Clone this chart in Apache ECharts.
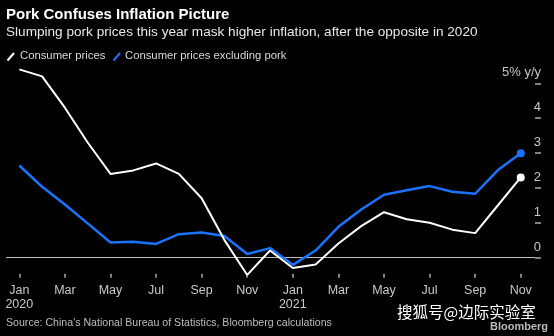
<!DOCTYPE html>
<html>
<head>
<meta charset="utf-8">
<script src="https://cdn.jsdelivr.net/npm/echarts@6/dist/echarts.min.js"></script>
<style>
html,body{margin:0;padding:0;background:#000;}
#c{width:554px;height:336px;}
</style>
</head>
<body>
<div id="c"></div>
<script>
// Months Jan 2020 .. Nov 2021
const months = ['Jan 2020','Feb 2020','Mar 2020','Apr 2020','May 2020','Jun 2020','Jul 2020','Aug 2020','Sep 2020','Oct 2020','Nov 2020','Dec 2020',
  'Jan 2021','Feb 2021','Mar 2021','Apr 2021','May 2021','Jun 2021','Jul 2021','Aug 2021','Sep 2021','Oct 2021','Nov 2021'];
const cpi = [5.4,5.2,4.3,3.3,2.4,2.5,2.7,2.4,1.7,0.5,-0.5,0.2,-0.3,-0.2,0.4,0.9,1.3,1.1,1.0,0.8,0.7,1.5,2.3];
const cpiExPork = [2.64,2.03,1.52,0.98,0.43,0.45,0.39,0.67,0.72,0.62,0.1,0.27,-0.21,0.2,0.88,1.38,1.8,1.93,2.05,1.89,1.83,2.51,2.99];
const xTickIdx = [0,2,4,6,8,10,12,14,16,18,20,22];
const xTickLabels = ['Jan\n2020','Mar','May','Jul','Sep','Nov','Jan\n2021','Mar','May','Jul','Sep','Nov'];
const yTicks = [0,1,2,3,4,5];
const yTickLabels = ['0','1','2','3','4','5% y/y'];

const FONT = 'Liberation Sans';

function toData(arr){
  return arr.map((v,i)=> i===arr.length-1 ? {value:[i,v], symbol:'circle', symbolSize:8} : {value:[i,v], symbol:'none'});
}

const chart = echarts.init(document.getElementById('c'), null, {renderer:'canvas'});
chart.setOption({
  backgroundColor:'#000',
  animation:false,
  grid:{left:6, right:19, top:48.46, height:243.9},
  xAxis:{
    type:'value', min:-0.584, max:22.625,
    position:'bottom', offset:-18.5,
    axisLine:{show:false, onZero:false},
    splitLine:{show:false},
    axisTick:{show:true, length:4, lineStyle:{color:'#aaa', width:1.5}, customValues:xTickIdx},
    axisLabel:{
      customValues:xTickIdx, margin:10, color:'#c8c8c8', fontFamily:FONT, fontSize:12.5, lineHeight:14,
      formatter:(v)=>{const i=xTickIdx.indexOf(Math.round(v)); return i>=0?xTickLabels[i]:'';}
    }
  },
  yAxis:{
    type:'value', min:-1, max:6, interval:1, position:'right',
    axisLine:{show:false, onZero:false},
    splitLine:{show:false},
    axisTick:{show:true, inside:false, length:6, lineStyle:{color:'#aaa', width:1.5}, customValues:yTicks},
    axisLabel:{
      customValues:yTicks, inside:true, margin:-6, color:'#c8c8c8', fontFamily:FONT, fontSize:13,
      verticalAlign:'bottom', padding:[0,0,4,0],
      formatter:(v)=>{const i=yTicks.indexOf(Math.round(v)); return i>=0?yTickLabels[i]:'';}
    }
  },
  series:[
    {
      name:'Consumer prices excluding pork', type:'line', data:toData(cpiExPork),
      lineStyle:{color:'#1a73ff', width:2.5}, itemStyle:{color:'#1a73ff'},
      showSymbol:true, z:3,
      markLine:{silent:true, symbol:'none', label:{show:false}, lineStyle:{color:'#bdbdbd', width:1.2, type:'solid'}, data:[{yAxis:0}], z:1}
    },
    {
      name:'Consumer prices', type:'line', data:toData(cpi),
      lineStyle:{color:'#ffffff', width:2}, itemStyle:{color:'#ffffff'},
      showSymbol:true, z:4
    }
  ],
  graphic:[
    {type:'text', left:6, top:7, style:{text:'Pork Confuses Inflation Picture', fill:'#fff', font:'bold 15px "'+FONT+'"'}},
    {type:'text', left:6, top:25, style:{text:'Slumping pork prices this year mask higher inflation, after the opposite in 2020', fill:'#e8e8e8', font:'13.6px "'+FONT+'"'}},
    {type:'line', shape:{x1:7.5,y1:60.5,x2:14,y2:53}, style:{stroke:'#fff', lineWidth:2}},
    {type:'text', left:20, top:50, style:{text:'Consumer prices', fill:'#d8d8d8', font:'11.3px "'+FONT+'"'}},
    {type:'line', shape:{x1:113.5,y1:60.5,x2:120,y2:53}, style:{stroke:'#1a73ff', lineWidth:2}},
    {type:'text', left:125, top:50, style:{text:'Consumer prices excluding pork', fill:'#d8d8d8', font:'11.3px "'+FONT+'"'}},
    {type:'text', left:6, top:318, style:{text:"Source: China's National Bureau of Statistics, Bloomberg calculations", fill:'#bdbdbd', font:'10.6px "'+FONT+'"'}},
    {type:'text', right:6, top:321, style:{text:'Bloomberg', fill:'#bbb', font:'bold 11px "'+FONT+'"'}},
    {type:'text', left:397, top:304, style:{text:'搜狐号@边际实验室', fill:'#fff', font:'15.5px "Noto Sans CJK SC"'}}
  ]
});
</script>
</body>
</html>
